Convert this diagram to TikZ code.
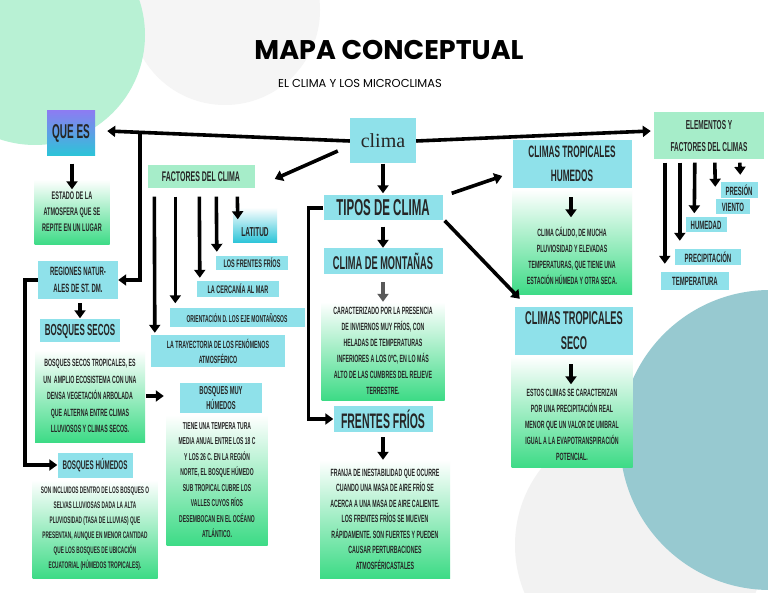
\documentclass[tikz,border=0pt]{standalone}
\usepackage{fontspec}
\setmainfont{Liberation Sans}
\newfontfamily\cond[FakeStretch=0.5]{Liberation Sans}
\newfontfamily\titlef{Poppins}
\newfontfamily\serif{Liberation Serif}
\usetikzlibrary{arrows.meta,calc}
\definecolor{cy}{HTML}{8FE1EA}
\definecolor{mint}{HTML}{A6EDC9}
\definecolor{gr}{HTML}{3DDB86}
\definecolor{pu}{HTML}{8C7CF2}
\definecolor{tl}{HTML}{2CC4D8}
\newcommand{\fs}[2]{\cond\bfseries\fontsize{#1}{#2}\selectfont}
\tikzset{
 b/.style={inner sep=1pt,align=center,font=\cond\bfseries,text=black!85},
 cb/.style={b,fill=cy},
 mb/.style={b,fill=mint},
 gb/.style={b,top color=white,bottom color=gr},
 tx/.style={inner sep=0pt,align=center,text=black!85},
 ar/.style={line width=3.6pt,-{Triangle[length=8pt,width=11pt]},black},
 ln/.style={line width=3.6pt,black},
}
\begin{document}
\begin{tikzpicture}[x=1pt,y=-1pt]
\useasboundingbox (0,0) rectangle (768,593);
\fill[white] (0,0) rectangle (768,593);
\begin{scope}
\clip (0,0) rectangle (768,593);
\fill[black!4] (225,10) circle (95);
\fill[mint!80] (35,35) circle (110);
\fill[black!5] (640,545) circle (125);
\fill[tl!55!gray!60] (770,440) circle (150);
\end{scope}
\node[font=\titlef\bfseries\fontsize{27}{28}\selectfont] (title) at (389,50) {MAPA CONCEPTUAL};
\node[font=\titlef\fontsize{11.5}{12}\selectfont] (sub) at (360,83) {EL CLIMA Y LOS MICROCLIMAS};
\node[cb,minimum width=66,minimum height=45,font=\serif\fontsize{20}{20}\selectfont] (clima) at (383,141) {clima};
\node[b,top color=pu,bottom color=tl,minimum width=48,minimum height=45,font=\fs{20}{20}] (quees) at (71,133) {QUE ES};
\node[gb,minimum width=75,minimum height=65,font=\fs{11}{16}] (estado) at (72,212) {ESTADO DE LA\\ATMOSFERA QUE SE\\REPITE EN UN LUGAR};
\node[mb,minimum width=107,minimum height=23,font=\fs{14}{14}] (fact) at (201,177) {FACTORES DEL CLIMA};
\node[b,top color=white,bottom color=tl,minimum width=44,minimum height=35] (lat) at (255,225) {};
\node[tx,font=\fs{13}{13}] (latl) at (255,232) {LATITUD};
\node[cb,minimum width=72,minimum height=14,font=\fs{11}{11}] (ff1) at (252,263) {LOS FRENTES FRÍOS};
\node[cb,minimum width=82,minimum height=16,font=\fs{11}{11}] (mar) at (238,289) {LA CERCANÍA AL MAR};
\node[cb,minimum width=135,minimum height=19,font=\fs{10}{10}] (ori) at (237,318) {ORIENTACIÓN D. LOS EJE MONTAÑOSOS};
\node[cb,minimum width=134,minimum height=32,font=\fs{10.5}{15}] (tray) at (218,351) {LA TRAYECTORIA DE LOS FENÓMENOS\\ATMOSFÉRICO};
\node[cb,minimum width=80,minimum height=38,font=\fs{12}{17}] (reg) at (78,280) {REGIONES NATUR-\\ALES DE ST. DM.};
\node[cb,minimum width=80,minimum height=23,font=\fs{16}{16}] (bsec) at (80,331) {BOSQUES SECOS};
\node[gb,minimum width=110,minimum height=92,font=\fs{10.5}{16.5}] (bsect) at (90,396) {BOSQUES SECOS TROPICALES, ES\\UN \ AMPLIO ECOSISTEMA CON UNA\\DENSA VEGETACIÓN ARBOLADA\\QUE ALTERNA ENTRE CLIMAS\\LLUVIOSOS Y CLIMAS SECOS.};
\node[cb,minimum width=82,minimum height=30,font=\fs{11.5}{15}] (bmh) at (221,398) {BOSQUES MUY\\HÚMEDOS};
\node[gb,minimum width=101,minimum height=130,font=\fs{10}{15.5}] (bmht) at (217,480) {TIENE UNA TEMPERA TURA\\MEDIA ANUAL ENTRE LOS 18 C\\Y LOS 26 C. EN LA REGIÓN\\NORTE, EL BOSQUE HÚMEDO\\SUB TROPICAL CUBRE LOS\\VALLES CUYOS RÍOS\\DESEMBOCAN EN EL OCÉANO\\ATLÁNTICO.};
\node[cb,minimum width=75,minimum height=25,font=\fs{12.5}{12}] (bh) at (95,465) {BOSQUES HÚMEDOS};
\node[gb,minimum width=125,minimum height=98,font=\fs{9.5}{15}] (bht) at (95,529) {SON INCLUIDOS DENTRO DE LOS BOSQUES O\\SELVAS LLUVIOSAS DADA LA ALTA\\PLUVIOSIDAD (TASA DE LLUVIAS) QUE\\PRESENTAN, AUNQUE EN MENOR CANTIDAD\\QUE LOS BOSQUES DE UBICACIÓN\\ECUATORIAL (HÚMEDOS TROPICALES).};
\node[cb,minimum width=119,minimum height=25,font=\fs{23}{23}] (tipos) at (383,208) {TIPOS DE CLIMA};
\node[cb,minimum width=119,minimum height=26,font=\fs{18.5}{18}] (mont) at (383,261) {CLIMA DE MONTAÑAS};
\node[gb,minimum width=123,minimum height=98,font=\fs{10.5}{16}] (montt) at (383,351) {CARACTERIZADO POR LA PRESENCIA\\DE INVIERNOS MUY FRÍOS, CON\\HELADAS DE TEMPERATURAS\\INFERIORES A LOS 0ºC, EN LO MÁS\\ALTO DE LAS CUMBRES DEL RELIEVE\\TERRESTRE.};
\node[cb,minimum width=99,minimum height=26,font=\fs{21}{21}] (fren) at (383,419) {FRENTES FRÍOS};
\node[gb,minimum width=130,minimum height=118,font=\fs{10.5}{15.5}] (frent) at (385,519) {FRANJA DE INESTABILIDAD QUE OCURRE\\CUANDO UNA MASA DE AIRE FRÍO SE\\ACERCA A UNA MASA DE AIRE CALIENTE.\\LOS FRENTES FRÍOS SE MUEVEN\\RÁPIDAMENTE. SON FUERTES Y PUEDEN\\CAUSAR PERTURBACIONES\\ATMOSFÉRICASTALES};
\node[gb,minimum width=120,minimum height=105] (cthtx) at (572,242) {};
\node[tx,font=\fs{10.5}{16}] (cthtl) at (572,256) {CLIMA CÁLIDO, DE MUCHA\\PLUVIOSIDAD Y ELEVADAS\\TEMPERATURAS, QUE TIENE UNA\\ESTACIÓN HÚMEDA Y OTRA SECA.};
\node[cb,minimum width=119,minimum height=48,font=\fs{16.5}{24}] (cth) at (572,164) {CLIMAS TROPICALES\\HUMEDOS};
\node[gb,minimum width=121,minimum height=111] (ctstx) at (572,412) {};
\node[tx,font=\fs{10.5}{16}] (ctstl) at (572,425) {ESTOS CLIMAS SE CARACTERIZAN\\POR UNA PRECIPITACIÓN REAL\\MENOR QUE UN VALOR DE UMBRAL\\IGUAL A LA EVAPOTRANSPIRACIÓN\\POTENCIAL.};
\node[cb,minimum width=118,minimum height=48,font=\fs{18.5}{25}] (cts) at (574,331) {CLIMAS TROPICALES\\SECO};
\node[mb,minimum width=110,minimum height=47,font=\fs{13}{22}] (elem) at (709,136) {ELEMENTOS Y\\FACTORES DEL CLIMAS};
\node[cb,minimum width=37,minimum height=16,font=\fs{12}{12}] (pres) at (739,190) {PRESIÓN};
\node[cb,minimum width=34,minimum height=15,font=\fs{12}{12}] (vien) at (733,207) {VIENTO};
\node[cb,minimum width=41,minimum height=15,font=\fs{12}{12}] (hum) at (706,225) {HUMEDAD};
\node[cb,minimum width=66,minimum height=16,font=\fs{12}{12}] (prec) at (708,257) {PRECIPITACIÓN};
\node[cb,minimum width=68,minimum height=18,font=\fs{12}{12}] (temp) at (695,281) {TEMPERATURA};
% connectors
\draw[ar] (clima.west) -- ($(quees.east)+(12,-2)$);
\coordinate (jq) at (140,131);
\coordinate (jr) at (140,280);
\draw[ln] (jq) -- (jr);
\draw[ar] ($(jr)+(1.8,0)$) -- (reg.east);
\draw[ar] ($(quees.south)+(1,8)$) -- ($(estado.north)+(0,10)$);
\draw[ar] ($(clima.west)+(-12,10)$) -- ($(fact.east)+(20,2)$);
\draw[ar] (clima.south) -- ($(tipos.north)+(0,-2)$);
\draw[ar] (clima.east) -- ($(elem.west)+(-3,-5)$);
\draw[ar] ($(fact.south west)+(7,8)$) -- ($(tray.north west)+(4,-2)$);
\draw[ar] ($(fact.south west)+(28,8)$) -- ($(ori.north west)+(6,-5)$);
\draw[ar] ($(fact.south west)+(52,8)$) -- ($(mar.north west)+(3,-3)$);
\draw[ar] ($(fact.south west)+(69,8)$) -- ($(ff1.north west)+(1,-4)$);
\draw[ar] ($(fact.south west)+(90,8)$) -- ($(lat.north west)+(5,12)$);
\draw[ar] ($(reg.south)+(2,4)$) -- ($(bsec.north)+(0,-1)$);
\draw[ar] ($(bsect.east)+(1,0)$) -- ($(bmh.west)+(-16,-2)$);
\draw[ln,-{Triangle[length=8pt,width=11pt]}] (reg.west) -- ++(-13,0) |- (bh.west);
\draw[ar] ($(tipos.south)+(0,6)$) -- (mont.north);
\draw[ln,black!65,-{Triangle[length=8pt,width=11pt]}] ($(mont.south)+(0,8)$) -- (montt.north);
\draw[ln,-{Triangle[length=8pt,width=11pt]}] (tipos.west) -- ++(-15,0) |- (fren.west);
\draw[ar] ($(fren.south)+(0,5)$) -- ($(frent.north)+(-2,0)$);
\draw[ar] ($(tipos.north east)+(9,-2)$) -- ($(cth.west)+(-10,12)$);
\draw[ar] ($(tipos.south east)+(2,0)$) -- ($(cts.north west)+(5,-8)$);
\draw[ar] ($(cthtx.north)+(-1,8)$) -- ($(cthtx.north)+(-1,28)$);
\draw[ar] ($(ctstx.north)+(-1,8)$) -- ($(ctstx.north)+(-1,28)$);
\draw[ar] ($(elem.south west)+(11,3)$) -- ($(temp.north west)+(4,-8)$);
\draw[ar] ($(elem.south west)+(26,3)$) -- ($(prec.north west)+(5,-8)$);
\draw[ar] ($(elem.south west)+(41,3)$) -- ($(hum.north west)+(9,-4)$);
\draw[ar] ($(elem.south west)+(61,3)$) -- ($(pres.north west)+(-5,5)$);
\draw[ar] ($(elem.south west)+(86,3)$) -- ($(pres.north west)+(20,-7)$);
\end{tikzpicture}
\end{document}
